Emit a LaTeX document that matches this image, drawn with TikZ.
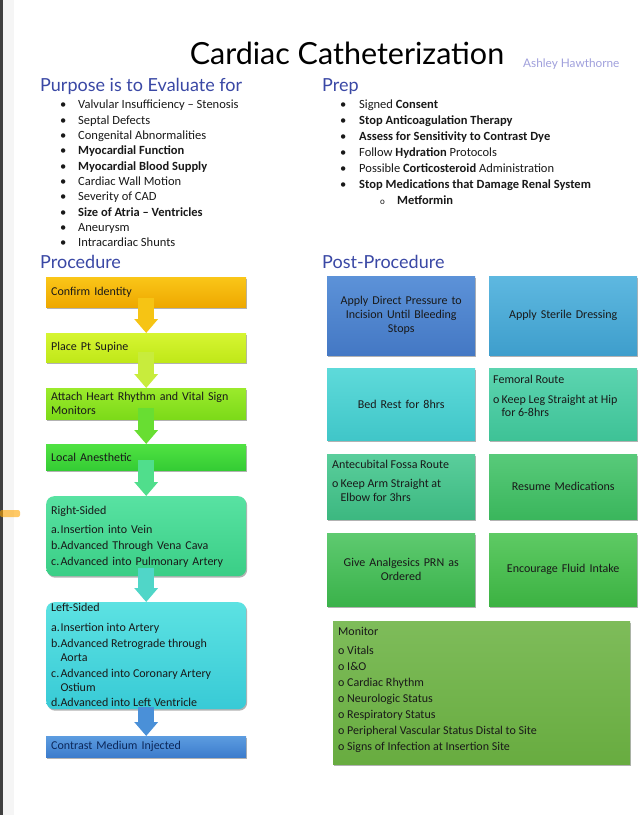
\documentclass[tikz,border=0pt]{standalone}
\usepackage{fontspec}
\setmainfont{Carlito}
\newfontfamily\headfont{Lato}
\usetikzlibrary{arrows.meta,shadows}
\definecolor{headblue}{RGB}{58,72,165}
\definecolor{author}{RGB}{160,160,220}
\definecolor{txt}{RGB}{25,25,25}
\definecolor{navy}{RGB}{12,40,90}
\begin{document}
\begin{tikzpicture}[x=1pt,y=-1pt,
  shad/.style={drop shadow={shadow xshift=1pt,shadow yshift=-1.5pt,opacity=0.3,fill=black}},
  procbox/.style={anchor=north west,minimum width=200pt,text width=190pt,inner xsep=5pt,inner ysep=0pt,align=left,
    font=\fontsize{12}{14}\selectfont,text=txt,shad},
  postbox/.style={anchor=north west,minimum width=148pt,text width=140pt,inner xsep=4pt,inner ysep=0pt,align=center,
    font=\fontsize{12}{14}\selectfont,text=txt,shad},
  inbox/.style={anchor=north west,inner sep=0pt,align=left,font=\fontsize{12}{14}\selectfont,text=txt},
  procarrow/.style={line width=16pt,-{Triangle[width=23pt,length=14pt]}},
  head/.style={anchor=base west,inner sep=0pt,font=\headfont\fontsize{18}{20}\selectfont,text=headblue},
  lst/.style={anchor=north west,inner sep=0pt,align=left,font=\fontsize{12.5}{15.33}\selectfont,text=txt},
]
\useasboundingbox (0,0) rectangle (640,815);
\fill[white] (0,0) rectangle (640,815);
\fill[black!4] (3,0) rectangle (14,815);
\fill[black!75] (0,0) rectangle (3,815);
\fill[orange!70!yellow,opacity=0.6,rounded corners=2pt] (0,510) rectangle (20,517);

% title
\node[anchor=base,inner sep=0pt,font=\headfont\fontsize{30.5}{34}\selectfont] (title) at (347,64) {Cardiac Catheterization};
\node[anchor=base west,inner sep=0pt,font=\headfont\fontsize{11.8}{13}\selectfont,text=author] (auth) at (523,67) {Ashley Hawthorne};

% headings
\node[head] (hpurp) at (40,91) {Purpose is to Evaluate for};
\node[head] (hprep) at (322,91) {Prep};
\node[head] (hproc) at (40,268) {Procedure};
\node[head] (hpost) at (322,268) {Post-Procedure};

% purpose list
\node[lst] (purp) at (60,100) {%
\makebox[18pt][l]{\textbullet}Valvular Insufficiency -- Stenosis\\
\makebox[18pt][l]{\textbullet}Septal Defects\\
\makebox[18pt][l]{\textbullet}Congenital Abnormalities\\
\makebox[18pt][l]{\textbullet}\textbf{Myocardial Function}\\
\makebox[18pt][l]{\textbullet}\textbf{Myocardial Blood Supply}\\
\makebox[18pt][l]{\textbullet}Cardiac Wall Motion\\
\makebox[18pt][l]{\textbullet}Severity of CAD\\
\makebox[18pt][l]{\textbullet}\textbf{Size of Atria -- Ventricles}\\
\makebox[18pt][l]{\textbullet}Aneurysm\\
\makebox[18pt][l]{\textbullet}Intracardiac Shunts};

% prep list
\node[lst,font=\fontsize{12.5}{16}\selectfont] (prep) at (340,100) {%
\makebox[19pt][l]{\textbullet}Signed \textbf{Consent}\\
\makebox[19pt][l]{\textbullet}\textbf{Stop Anticoagulation Therapy}\\
\makebox[19pt][l]{\textbullet}\textbf{Assess for Sensitivity to Contrast Dye}\\
\makebox[19pt][l]{\textbullet}Follow \textbf{Hydration} Protocols\\
\makebox[19pt][l]{\textbullet}Possible \textbf{Corticosteroid} Administration\\
\makebox[19pt][l]{\textbullet}\textbf{Stop Medications that Damage Renal System}\\
\hspace*{40pt}\makebox[17pt][l]{\small o}\textbf{Metformin}};

% procedure boxes
\node[procbox,minimum height=30pt,top color={rgb,255:red,250;green,198;blue,24},bottom color={rgb,255:red,238;green,168;blue,0}] (ci) at (46,277) {Confirm Identity};
\node[procbox,minimum height=29pt,top color={rgb,255:red,214;green,245;blue,50},bottom color={rgb,255:red,192;green,232;blue,24}] (pps) at (46,333) {Place Pt Supine};
\node[procbox,minimum height=31pt,top color={rgb,255:red,155;green,234;blue,44},bottom color={rgb,255:red,124;green,218;blue,24}] (ahr) at (46,388) {Attach Heart Rhythm and Vital Sign\\Monitors};
\node[procbox,minimum height=26pt,top color={rgb,255:red,80;green,226;blue,66},bottom color={rgb,255:red,52;green,204;blue,52}] (la) at (46,444) {Local Anesthetic};
\node[procbox,minimum height=80pt,rounded corners=8pt,font=\fontsize{12}{16}\selectfont,top color={rgb,255:red,88;green,226;blue,162},bottom color={rgb,255:red,58;green,206;blue,134}] (rs) at (46,496) {\rule{0pt}{13pt}Right-Sided\\[5pt]%
\begin{tabular}{@{}l@{}l@{}}a.&Insertion into Vein\\b.&Advanced Through Vena Cava\\c.&Advanced into Pulmonary Artery\end{tabular}};
\node[procbox,minimum height=107pt,rounded corners=8pt,top color={rgb,255:red,92;green,226;blue,226},bottom color={rgb,255:red,56;green,202;blue,214}] (ls) at (46,602) {};
\node[inbox,font=\fontsize{12}{16}\selectfont] (lst) at ([xshift=5pt,yshift=-1pt]ls.north west) {Left-Sided\\[8pt]%
\begin{tabular}{@{}l@{}l@{}}a.&Insertion into Artery\\b.&Advanced Retrograde through\\[-2pt]&Aorta\\c.&Advanced into Coronary Artery\\[-2pt]&Ostium\\[-1pt]d.&Advanced into Left Ventricle\end{tabular}};
\node[procbox,minimum height=21pt,text=navy,top color={rgb,255:red,92;green,156;blue,224},bottom color={rgb,255:red,60;green,124;blue,204}] (cmi) at (46,736) {Contrast Medium Injected};

% procedure arrows
\draw[procarrow,draw={rgb,255:red,246;green,196;blue,20}] ([yshift=9pt]ci.south) -- (pps.north);
\draw[procarrow,draw={rgb,255:red,200;green,236;blue,60}] ([yshift=10pt]pps.south) -- (ahr.north);
\draw[procarrow,draw={rgb,255:red,104;green,222;blue,50}] ([yshift=11pt]ahr.south) -- (la.north);
\draw[procarrow,draw={rgb,255:red,80;green,222;blue,140}] ([yshift=10pt]la.south) -- (rs.north);
\draw[procarrow,draw={rgb,255:red,80;green,214;blue,200}] ([yshift=8pt]rs.south) -- (ls.north);
\draw[procarrow,draw={rgb,255:red,74;green,144;blue,216}] ([yshift=2pt]ls.south) -- (cmi.north);

% post-procedure
\node[postbox,minimum height=79pt,top color={rgb,255:red,92;green,146;blue,216},bottom color={rgb,255:red,68;green,120;blue,196}] (adp) at (327,276) {Apply Direct Pressure to\\Incision Until Bleeding\\Stops};
\node[postbox,minimum height=79pt,top color={rgb,255:red,94;green,184;blue,224},bottom color={rgb,255:red,62;green,158;blue,204}] (asd) at (489,276) {Apply Sterile Dressing};
\node[postbox,minimum height=72pt,top color={rgb,255:red,94;green,218;blue,218},bottom color={rgb,255:red,64;green,198;blue,200}] (br) at (327,368) {Bed Rest for 8hrs};
\node[postbox,minimum height=72pt,top color={rgb,255:red,92;green,212;blue,176},bottom color={rgb,255:red,62;green,194;blue,150}] (fem) at (489,368) {};
\node[inbox] (femt) at ([xshift=4pt,yshift=-7pt]fem.north west) {Femoral Route\\[9pt]%
\begin{tabular}{@{}l@{\hspace{2pt}}l@{}}o&Keep Leg Straight at Hip\\[-1pt]&for 6-8hrs\end{tabular}};
\node[postbox,minimum height=65pt,top color={rgb,255:red,90;green,206;blue,156},bottom color={rgb,255:red,60;green,184;blue,128}] (ant) at (327,454) {};
\node[inbox] (antt) at ([xshift=5pt,yshift=-6pt]ant.north west) {Antecubital Fossa Route\\[8pt]%
\begin{tabular}{@{}l@{\hspace{2pt}}l@{}}o&Keep Arm Straight at\\[0pt]&Elbow for 3hrs\end{tabular}};
\node[postbox,minimum height=65pt,top color={rgb,255:red,88;green,202;blue,122},bottom color={rgb,255:red,58;green,182;blue,92}] (rm) at (489,454) {Resume Medications};
\node[postbox,minimum height=73pt,top color={rgb,255:red,94;green,202;blue,112},bottom color={rgb,255:red,58;green,178;blue,74}] (ga) at (327,533) {Give Analgesics PRN as\\Ordered};
\node[postbox,minimum height=73pt,top color={rgb,255:red,94;green,202;blue,100},bottom color={rgb,255:red,60;green,178;blue,66}] (efi) at (489,533) {Encourage Fluid Intake};
\node[postbox,minimum width=297pt,text width=289pt,minimum height=143pt,
  top color={rgb,255:red,126;green,188;blue,90},bottom color={rgb,255:red,104;green,172;blue,64}] (mon) at (333,621) {};
\node[inbox,font=\fontsize{12}{16}\selectfont] (mont) at ([xshift=5pt,yshift=-6pt]mon.north west) {Monitor\\[3pt]%
o Vitals\\o I\&O\\o Cardiac Rhythm\\o Neurologic Status\\o Respiratory Status\\o Peripheral Vascular Status Distal to Site\\o Signs of Infection at Insertion Site};
\end{tikzpicture}
\end{document}
